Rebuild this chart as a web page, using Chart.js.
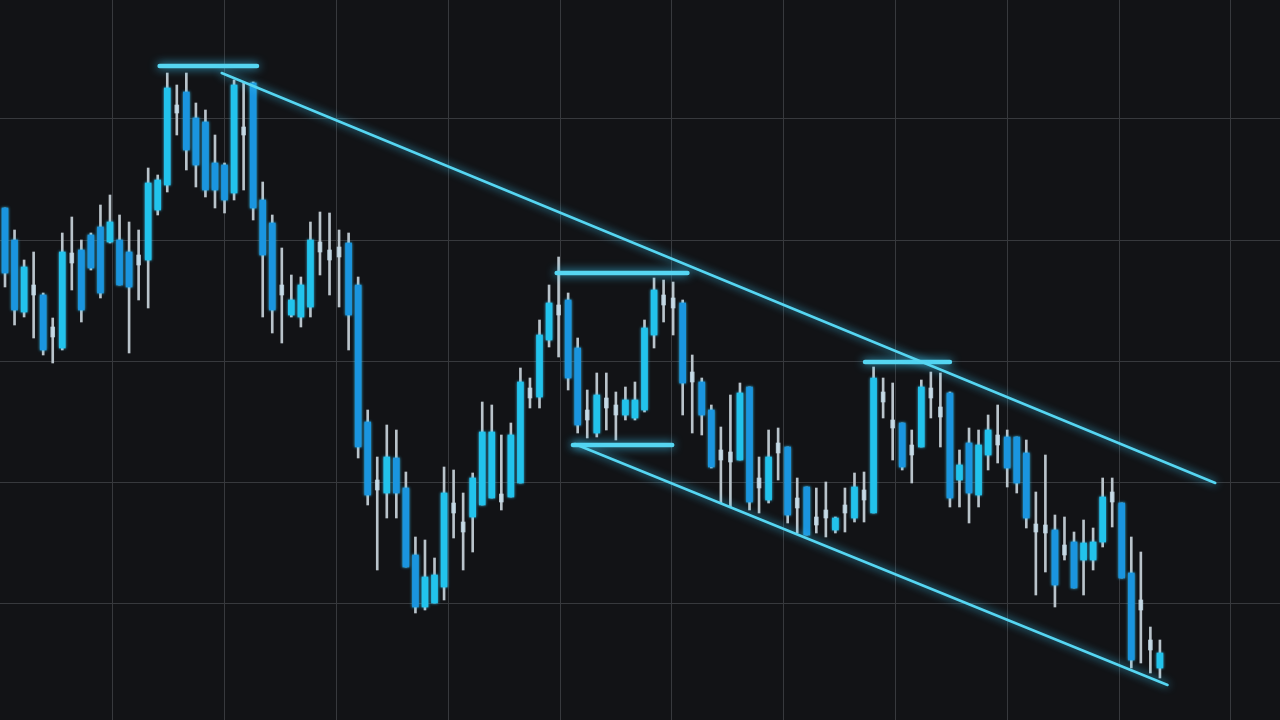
<!DOCTYPE html>
<html>
<head>
<meta charset="utf-8">
<script src="https://cdn.jsdelivr.net/npm/chart.js@4"></script>
<style>
  html, body { margin: 0; padding: 0; background: #121316; }
  #wrap { width: 1280px; height: 720px; }
</style>
</head>
<body>
<div id="wrap"><canvas id="c" width="1280" height="720"></canvas></div>
<script>
// ---- Candle data (price units) ----
const opens = [516,484,412,429,429,387,376,461,474,489,497,482,484,472,459,464,514,539,611,632,
  606,602,561,559,531,589,641,524,501,429,409,407,417,472,464,467,481,439,302,234,
  231,266,236,169,117,121,137,211,192,207,219,226,222,227,241,326,327,384,409,424,
  376,304,291,316,309,309,306,314,389,419,416,421,342,342,314,264,262,264,337,236,
  224,271,277,216,237,199,206,194,211,206,224,211,322,296,301,269,277,326,307,331,
  244,281,229,269,279,287,287,271,192,191,194,169,182,164,164,182,222,221,151,114,
  74,56];
const highs = [516,494,464,472,431,406,491,507,484,491,519,529,509,502,494,556,549,651,639,651,
  621,614,589,561,644,642,642,542,509,476,449,447,502,512,511,494,491,447,314,267,
  299,294,252,187,184,166,257,254,231,251,322,319,289,301,356,346,404,439,467,431,
  386,334,351,351,332,337,342,404,446,444,442,424,369,346,319,297,329,341,337,267,
  294,296,277,246,237,236,242,207,236,251,252,357,346,341,301,294,344,352,351,332,
  274,296,294,309,319,294,287,284,232,269,209,207,192,204,196,246,246,221,187,172,
  97,84];
const lows = [437,399,407,386,369,361,374,434,402,454,426,481,439,371,424,416,509,532,589,554,
  537,527,516,511,524,534,504,407,391,381,407,397,407,449,429,417,374,266,219,154,
  206,206,157,111,114,121,124,186,154,172,219,226,214,227,241,316,316,377,367,334,
  291,286,287,294,284,304,304,312,376,402,389,309,291,289,256,221,217,264,214,211,
  221,244,201,191,189,191,187,191,192,202,202,211,306,264,254,241,277,306,277,217,
  217,201,217,254,261,237,231,196,129,152,117,164,136,129,154,177,197,146,56,61,
  51,46];
const closes = [451,414,457,439,374,397,472,471,414,456,431,502,439,437,469,541,544,636,619,574,
  559,534,534,524,639,597,516,469,414,439,424,439,484,482,474,477,409,277,229,244,
  267,231,157,117,147,149,231,221,202,246,292,292,230,289,342,336,389,421,419,346,
  299,314,329,326,319,324,324,396,434,429,426,341,352,309,257,274,272,331,222,246,
  267,281,209,226,189,207,214,206,219,237,234,346,332,304,257,279,337,336,317,226,
  259,231,279,294,289,256,241,206,200,199,139,179,136,181,182,227,232,146,64,124,
  84,71];

// ---- Trend-line annotations: [candle index, price] ----
const upperTrend = [[22.7, 651], [126.8, 241]];
const lowerTrend = [[59.7, 280], [121.8, 39]];
const topLevel1 = [[16.2, 658], [26.4, 658]];
const topLevel2 = [[57.8, 451], [71.5, 451]];
const baseLevel = [[59.5, 279], [69.9, 279]];
const topLevel3 = [[90.1, 362], [99.0, 362]];

// grid tick values
const xGridTicks = [11.31, 23.02, 34.74, 46.45, 58.16, 69.88, 81.59, 93.30, 105.02, 116.73, 128.44];
const yGridTicks = [121, 242, 363, 484, 605];

const CYAN = '#22c3ec';
const BLUE = '#1a95df';
const GREY_BODY = 'rgba(200,222,235,0.85)';
const WICK = '#b9c3ca';
const LINE = '#56d6f2';

const n = opens.length;
const wickData = [], bodyData = [], bodyColors = [], dojiData = [];
for (let i = 0; i < n; i++) {
  wickData.push({ x: i, y: [lows[i], highs[i]] });
  const span = { x: i, y: [Math.min(opens[i], closes[i]), Math.max(opens[i], closes[i])] };
  const diff = closes[i] - opens[i];
  if (Math.abs(diff) < 12) {
    dojiData.push(span);
  } else {
    bodyData.push(span);
    bodyColors.push(diff > 0 ? CYAN : BLUE);
  }
}

function seg(points, width, glow) {
  return {
    type: 'line',
    data: points.map(p => ({ x: p[0], y: p[1] })),
    borderColor: LINE,
    borderWidth: width,
    pointRadius: 0,
    borderCapStyle: 'round',
    tension: 0,
    order: 0,
    glow: glow,
    clip: false
  };
}

const glowPlugin = {
  id: 'glow',
  beforeDatasetDraw(chart, args) {
    const ds = chart.data.datasets[args.index];
    if (ds.glow) {
      const ctx = chart.ctx;
      ctx.save();
      ctx.shadowColor = 'rgba(60,200,245,0.9)';
      ctx.shadowBlur = ds.glow;
    }
  },
  afterDatasetDraw(chart, args) {
    const ds = chart.data.datasets[args.index];
    if (ds.glow) chart.ctx.restore();
  }
};

const bgPlugin = {
  id: 'bg',
  beforeDraw(chart) {
    const ctx = chart.ctx;
    ctx.save();
    ctx.fillStyle = '#121316';
    ctx.fillRect(0, 0, chart.width, chart.height);
    ctx.restore();
  }
};

new Chart(document.getElementById('c'), {
  type: 'bar',
  data: {
    datasets: [
      seg(upperTrend, 2.5, 8),
      seg(lowerTrend, 2.5, 8),
      seg(topLevel1, 4.5, 10),
      seg(topLevel2, 4.5, 10),
      seg(baseLevel, 4.5, 10),
      seg(topLevel3, 4.5, 10),
      {
        type: 'bar',
        data: bodyData,
        backgroundColor: bodyColors,
        barThickness: 6,
        grouped: false,
        borderWidth: 0,
        order: 1,
        glow: 3
      },
      {
        type: 'bar',
        data: dojiData,
        backgroundColor: GREY_BODY,
        barThickness: 4,
        grouped: false,
        borderWidth: 0,
        order: 2
      },
      {
        type: 'bar',
        data: wickData,
        backgroundColor: WICK,
        barThickness: 2,
        grouped: false,
        borderWidth: 0,
        order: 3
      }
    ]
  },
  options: {
    responsive: false,
    animation: false,
    devicePixelRatio: 1,
    layout: { padding: 0, autoPadding: false },
    plugins: { legend: { display: false }, tooltip: { enabled: false } },
    scales: {
      x: {
        type: 'linear',
        offset: false,
        min: -0.524,
        max: 133.58,
        afterBuildTicks(scale) { scale.ticks = xGridTicks.map(v => ({ value: v })); },
        ticks: { display: false },
        grid: { color: '#37393d', lineWidth: 1, drawTicks: false, offset: false },
        border: { display: false }
      },
      y: {
        type: 'linear',
        min: 4,
        max: 724,
        afterBuildTicks(scale) { scale.ticks = yGridTicks.map(v => ({ value: v })); },
        ticks: { display: false },
        grid: { color: '#37393d', lineWidth: 1, drawTicks: false },
        border: { display: false }
      }
    }
  },
  plugins: [bgPlugin, glowPlugin]
});
</script>
</body>
</html>
